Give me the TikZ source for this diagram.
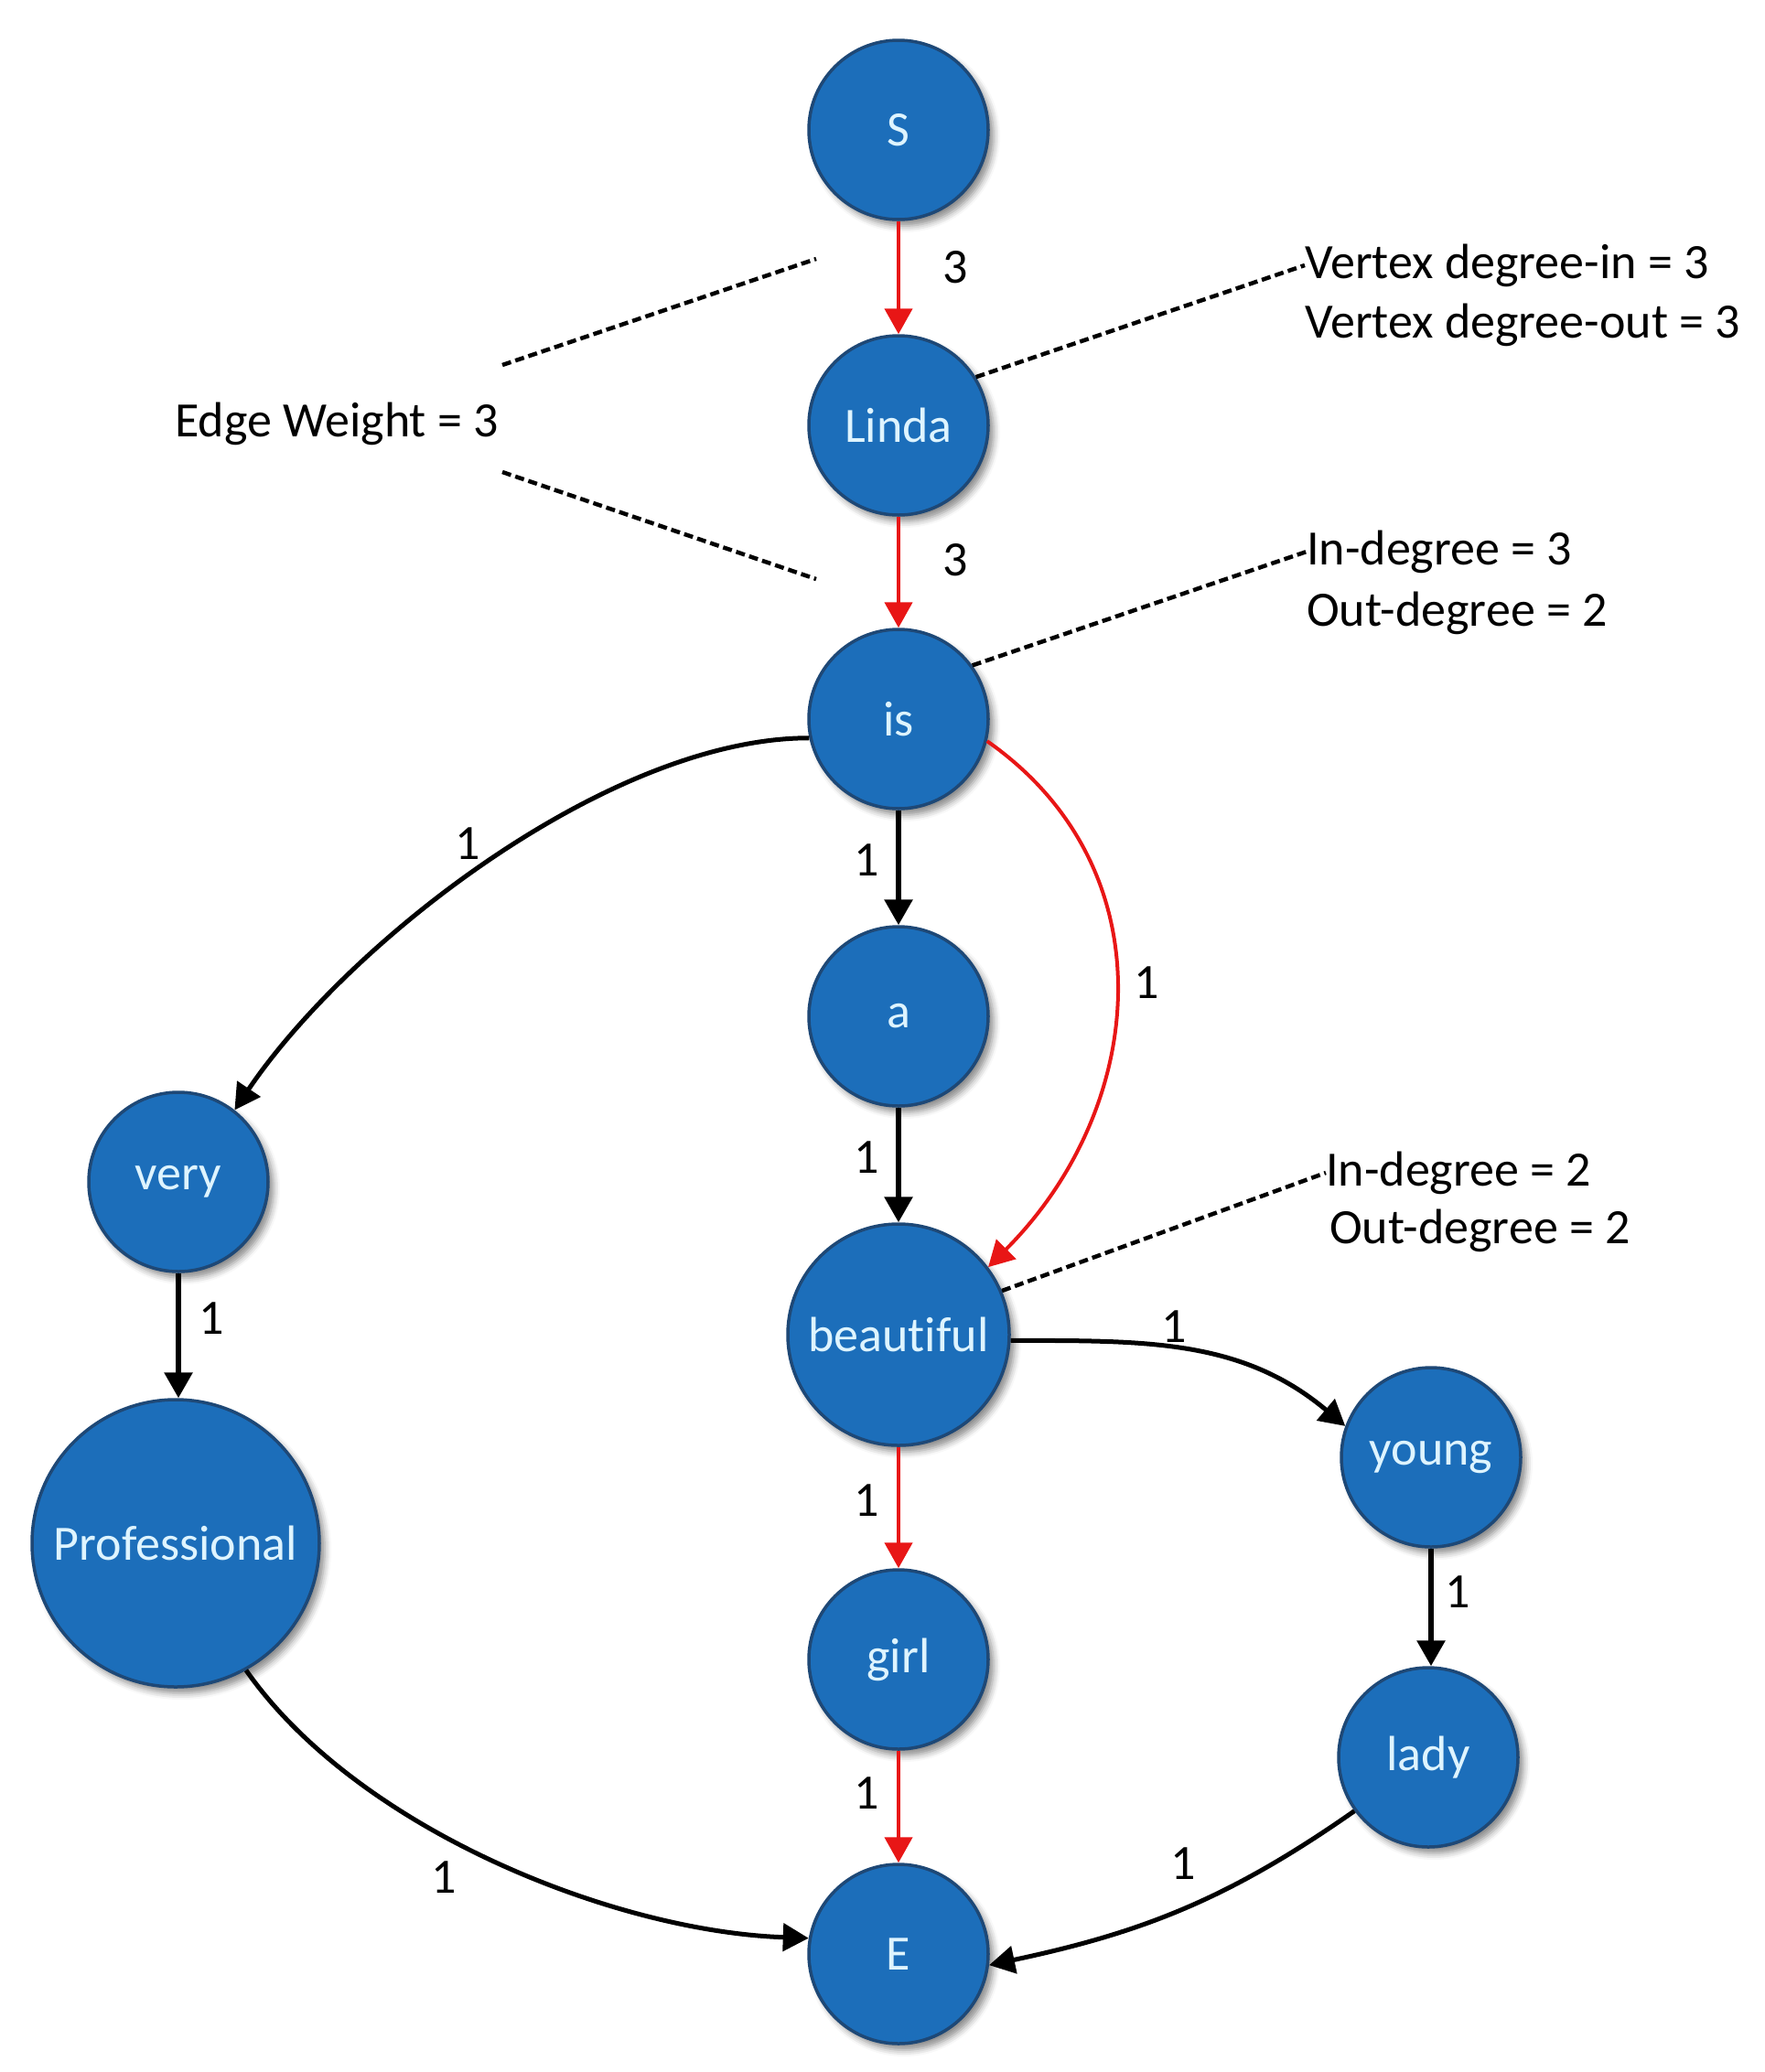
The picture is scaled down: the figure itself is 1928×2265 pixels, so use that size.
\documentclass[tikz,border=0pt]{standalone}
\usepackage{fontspec}
\setmainfont{Carlito}[Ligatures=NoCommon]
\usetikzlibrary{arrows.meta,shadows.blur}
\definecolor{nodeblue}{RGB}{28,110,186}
\definecolor{nodeedge}{RGB}{30,72,118}
\definecolor{nodetext}{RGB}{222,244,255}
\definecolor{edgered}{RGB}{232,22,22}
\begin{document}
\begin{tikzpicture}[x=1pt,y=1pt,
  vert/.style={circle, fill=nodeblue, draw=nodeedge, line width=3.5pt, text=nodetext,
    inner sep=0pt, minimum size=196pt, font=\fontsize{54}{60}\selectfont,
    blur shadow={shadow xshift=6pt, shadow yshift=-7pt, shadow blur radius=7pt, shadow opacity=45}},
  lbl/.style={font=\fontsize{54}{60}\selectfont, text=black, inner sep=0pt},
  redge/.style={draw=edgered, line width=4.5pt, -{Triangle[length=28pt,width=30pt]}},
  bedge/.style={draw=black, line width=6pt, -{Triangle[length=28pt,width=30pt]}},
  cedge/.style={draw=black, line width=5pt, -{Triangle[length=28pt,width=30pt]}},
  dline/.style={draw=black, dash pattern=on 10pt off 5pt, line width=4.5pt}
]
\useasboundingbox (0,0) rectangle (1928,-2265);

% vertices
\node[vert] (S) at (982,-142) {S};
\node[vert] (L) at (982,-465) {Linda};
\node[vert] (is) at (982,-786) {is};
\node[vert] (a) at (982,-1111) {a};
\node[vert, minimum size=242pt] (b) at (982,-1459) {beautiful};
\node[vert] (girl) at (982,-1814) {girl};
\node[vert] (E) at (982,-2136) {E};
\node[vert] (very) at (195,-1292) {very};
\node[vert, minimum size=314pt] (P) at (192,-1687) {Professional};
\node[vert] (young) at (1564,-1593) {young};
\node[vert] (lady) at (1561,-1921) {lady};

% annotations
\node[lbl] (ew) at (368,-463) {Edge Weight = 3};
\coordinate (ewa) at (549,-399);
\coordinate (ewb) at (892,-283);
\coordinate (ewc) at (549,-516);
\coordinate (ewd) at (892,-633);
\draw[dline] (ewa) -- (ewb);
\draw[dline] (ewc) -- (ewd);

\node[lbl, anchor=west] (vdin) at (1426,-290) {Vertex degree-in = 3};
\node[lbl, anchor=west] (vdout) at (1426,-355) {Vertex degree-out = 3};
\draw[dline] (L.32) -- (vdin.west);

\node[lbl, anchor=west] (isin) at (1428,-603) {In-degree = 3};
\node[lbl, anchor=west] (isout) at (1428,-670) {Out-degree = 2};
\draw[dline] (is.36) -- (isin.west);

\node[lbl, anchor=west] (bin) at (1449,-1282) {In-degree = 2};
\node[lbl, anchor=west] (bout) at (1453,-1345) {Out-degree = 2};
\draw[dline] (b.23) -- (bin.west);

% edges
\draw[redge] (S) -- (L);
\draw[redge] (L) -- (is);
\draw[bedge] (is) -- (a);
\draw[bedge] (a) -- (b);
\draw[redge] (b) -- (girl);
\draw[redge] (girl) -- (E);
\draw[bedge] (very.south) -- (very.south |- P.north);
\draw[bedge] (young.south) -- (young.south |- lady.north);
\draw[redge, line width=4pt] (is.-14) .. controls +(-35:245) and +(45:245) .. (b.37);
\draw[cedge] (is.192) to[out=180, in=56, looseness=0.75] (very.52);
\draw[cedge] (b.-3) to[out=0, in=140] (young.160);
\draw[cedge] (P.-61) to[out=-55, in=178, looseness=0.8] (E.170);
\draw[cedge] (lady.216) to[out=215, in=12] (E.-7);

% edge weights
\node[lbl] (w1) at (1044,-292) {3};
\node[lbl] (w2) at (1044,-612) {3};
\node[lbl] (w3) at (947,-940) {1};
\node[lbl] (w4) at (947,-1265) {1};
\node[lbl] (w5) at (1253,-1074) {1};
\node[lbl] (w6) at (511,-922) {1};
\node[lbl] (w7) at (231,-1441) {1};
\node[lbl] (w8) at (1283,-1450) {1};
\node[lbl] (w9) at (947,-1640) {1};
\node[lbl] (w10) at (947,-1960) {1};
\node[lbl] (w11) at (1593,-1740) {1};
\node[lbl] (w12) at (485,-2052) {1};
\node[lbl] (w13) at (1293,-2037) {1};
\end{tikzpicture}
\end{document}
